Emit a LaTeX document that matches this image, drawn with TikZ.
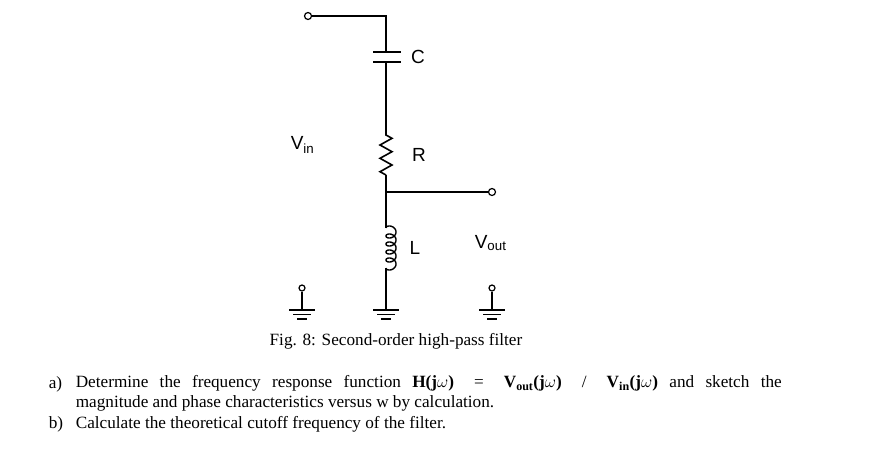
\documentclass[tikz,border=0pt]{standalone}
\usepackage{fontspec}
\setmainfont{Liberation Serif}
\newfontfamily\cirf{Liberation Sans}
\begin{document}
\begin{tikzpicture}[x=1pt,y=-1pt,line width=1.6pt,
  term/.style={circle,draw,line width=1.2pt,inner sep=0pt,minimum size=7pt,fill=white},
  lab/.style={font=\cirf\fontsize{19}{19}\selectfont,inner sep=0pt},
  txt/.style={font=\fontsize{17.2}{17.2}\selectfont,inner sep=0pt},
  gnd/.style={line width=1.5pt}]
\useasboundingbox (0,0) rectangle (872,448);
% top wire
\node[term] (tin) at (308,16) {};
\coordinate (tr) at (386,16);
\coordinate (c1) at (386,52);
\coordinate (c2) at (386,62);
\draw (tin) -- (tr) -- (c1);
\draw (373,52) -- (401,52);
\draw (373,62) -- (401,62);
\node[lab] (C) at (418,57) {C};
\coordinate (r1) at (386,135);
\coordinate (r2) at (386,175);
\draw[line join=miter] (c2) -- (r1) -- (392,138.3) -- (380,145) -- (392,151.7) -- (380,158.3) -- (392,165) -- (380,171.7) -- (r2);
\node[lab] (R) at (419,155) {R};
\coordinate (j) at (386,192);
\node[term] (tout) at (492,192) {};
\draw (r2) -- (j) -- (tout);
\coordinate (l1) at (386,228);
\coordinate (l2) at (386,268);
\draw (j) -- (l1);
\draw[line width=1.4pt] plot[domain=0:31.416,samples=200,smooth,variable=\t] ({391-5*cos(\t r)},{228+1.273*\t-3.8*sin(\t r)});
\draw (l2) -- (386,310);
\node[lab] (L) at (415,248) {L};
\node[lab,anchor=west] (vin) at (290,145) {V\textsubscript{in}};
\node[lab,anchor=west] (vout) at (474,243) {V\textsubscript{out}};
% grounds
\foreach \x/\n in {302/g1,492/g3}{
  \node[term,minimum size=6pt] (\n) at (\x,288) {};
  \draw[gnd] (\n) -- (\x,310);
  \draw[gnd] (\x-13,310) -- (\x+13,310);
  \draw[gnd] (\x-9,314.5) -- (\x+9,314.5);
  \draw[gnd] (\x-5,319) -- (\x+5,319);
}
\draw[gnd] (373,310) -- (399,310);
\draw[gnd] (377,314.5) -- (395,314.5);
\draw[gnd] (381,319) -- (391,319);
\node[txt] (cap) at (396,341) {Fig. 8: Second-order high-pass filter};
\node[txt,anchor=base west] (a) at (48,388) {a)};
\node[txt,anchor=north west] (at) at (75,375)
 {\parbox[t]{706pt}{\fontsize{17.2}{20}\selectfont\hyphenpenalty=10000 Determine the frequency response function \textbf{H(j$\omega$)}\hspace{7pt plus 4pt}=\hspace{7pt plus 4pt}\textbf{V\textsubscript{out}(j$\omega$)}\hspace{7pt plus 4pt}/\hspace{7pt plus 4pt}\textbf{V\textsubscript{in}(j$\omega$)} and sketch the\linebreak magnitude and phase characteristics versus w by calculation.}};
\node[txt,anchor=base west] (b) at (48,428) {b)};
\node[txt,anchor=base west] (bt) at (75,428) {Calculate the theoretical cutoff frequency of the filter.};
\end{tikzpicture}
\end{document}
